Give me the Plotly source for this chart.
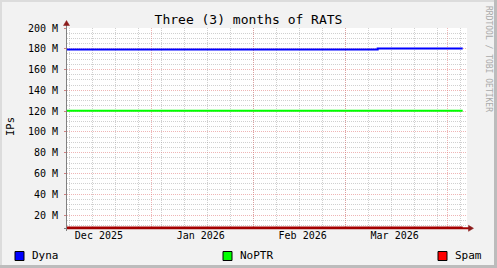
import plotly.graph_objects as go

# ---- data ----
dates = ["2025-12-06 06:45", "2026-03-10 20:00", "2026-04-05 17:00"]
dyna = [179.3, 180.3, 180.3]      # millions
noptr = [120.4, 120.4, 120.4]
spam = [8.1, 8.1, 8.1]

month_starts = ["2026-01-01", "2026-02-01", "2026-03-01", "2026-04-01"]
label_dates = ["2025-12-16", "2026-01-16", "2026-02-16", "2026-03-16"]
label_text = ["Dec 2025", "Jan 2026", "Feb 2026", "Mar 2026"]
week0 = "2025-12-14"
x_range = ["2025-12-06 06:45", "2026-04-07 00:30"]
y_range = [7.6, 200]

series_names = ["Dyna", "NoPTR", "Spam"]
series_colors = ["#0000ff", "#00ff00", "#ff0000"]

MONO = "DejaVu Sans Mono"
MAJ = "rgba(225,120,120,0.55)"
MIN = "rgba(150,150,150,0.45)"
DOT = "1px,1px"

fig = go.Figure()
fig.add_trace(go.Scatter(x=dates, y=dyna, mode="lines", line=dict(color="#0000ff", width=2, shape="hv"),
                         hoverinfo="skip", showlegend=False))
fig.add_trace(go.Scatter(x=dates, y=noptr, mode="lines", line=dict(color="#00ff00", width=2, shape="hv"),
                         hoverinfo="skip", showlegend=False))
fig.add_trace(go.Scatter(x=dates, y=spam, mode="lines", line=dict(color="#b00000", width=2, shape="hv"),
                         hoverinfo="skip", showlegend=False))
# carrier for the label axis
fig.add_trace(go.Scatter(x=label_dates, y=[None] * len(label_dates), xaxis="x2", mode="lines",
                         hoverinfo="skip", showlegend=False))

L, R, T, B = 67, 30, 28, 40
W, H = 497, 268
pw, ph = W - L - R, H - T - B

def px(x):
    return (x - L) / pw

def py(y):
    return (H - B - y) / ph

shapes = []
# frame
shapes.append(dict(type="line", xref="paper", yref="paper", x0=px(0), x1=px(W), y0=py(1), y1=py(1),
                   line=dict(color="#dcdcdc", width=2), layer="above"))
shapes.append(dict(type="line", xref="paper", yref="paper", x0=px(1), x1=px(1), y0=py(0), y1=py(H),
                   line=dict(color="#dcdcdc", width=2), layer="above"))
shapes.append(dict(type="line", xref="paper", yref="paper", x0=px(0), x1=px(W), y0=py(H - 1.5), y1=py(H - 1.5),
                   line=dict(color="#bcbcbc", width=3), layer="above"))
shapes.append(dict(type="line", xref="paper", yref="paper", x0=px(W - 1.5), x1=px(W - 1.5), y0=py(0), y1=py(H),
                   line=dict(color="#bcbcbc", width=3), layer="above"))
# axes
shapes.append(dict(type="line", xref="paper", yref="paper", x0=px(66.5), x1=px(66.5), y0=py(231), y1=py(23),
                   line=dict(color="#808080", width=1), layer="above"))
shapes.append(dict(type="line", xref="paper", yref="paper", x0=px(64), x1=px(67), y0=py(228.5), y1=py(228.5),
                   line=dict(color="#808080", width=1), layer="above"))
shapes.append(dict(type="line", xref="paper", yref="paper", x0=px(67), x1=px(470), y0=py(228.3), y1=py(228.3),
                   line=dict(color="#a00000", width=2), layer="above"))
# arrows
shapes.append(dict(type="path", xref="paper", yref="paper",
                   path=f"M {px(66.5)},{py(20.5)} L {px(63.5)},{py(25.5)} L {px(69.5)},{py(25.5)} Z",
                   fillcolor="#8b1a1a", line=dict(color="#8b1a1a", width=0.5), layer="above"))
shapes.append(dict(type="path", xref="paper", yref="paper",
                   path=f"M {px(473.5)},{py(228.3)} L {px(468.5)},{py(225.3)} L {px(468.5)},{py(231.3)} Z",
                   fillcolor="#8b1a1a", line=dict(color="#8b1a1a", width=0.5), layer="above"))

annotations = []
# legend
legend_pos = [15, 223, 438]
for name, col, x0 in zip(series_names, series_colors, legend_pos):
    shapes.append(dict(type="rect", xref="paper", yref="paper", x0=px(x0), x1=px(x0 + 9),
                       y0=py(260.5), y1=py(251.5), fillcolor=col, line=dict(color="black", width=1)))
    annotations.append(dict(xref="paper", yref="paper", x=px(x0 + 15), y=py(255.5), text=name,
                            showarrow=False, xanchor="left", yanchor="middle",
                            font=dict(family=MONO, size=11, color="black")))
# y title
annotations.append(dict(xref="paper", yref="paper", x=px(10), y=py(127), text="IPs", textangle=-90,
                        showarrow=False, xanchor="center", yanchor="middle",
                        font=dict(family=MONO, size=10.5, color="black")))
# watermark
annotations.append(dict(xref="paper", yref="paper", x=px(489), y=py(59), text="RRDTOOL / TOBI OETIKER",
                        textangle=90, showarrow=False, xanchor="center", yanchor="middle",
                        font=dict(family=MONO, size=8, color="#aaaaaa")))

fig.update_layout(
    width=W, height=H, margin=dict(l=L, r=R, t=T, b=B, pad=0),
    paper_bgcolor="#f2f2f2", plot_bgcolor="#ffffff",
    showlegend=False,
    title=dict(text="Three (3) months of RATS", x=0.5, xref="container", xanchor="center",
               y=1 - 19 / H, yref="container", yanchor="middle",
               font=dict(family=MONO, size=13, color="black")),
    xaxis=dict(type="date", range=x_range, tickmode="array", tickvals=month_starts,
               showticklabels=False, ticks="", showgrid=True, gridcolor=MAJ, griddash=DOT, gridwidth=1,
               zeroline=False, showline=False,
               minor=dict(tick0=week0, dtick=7 * 86400000, showgrid=True, gridcolor=MIN, griddash=DOT,
                          gridwidth=1, ticks="")),
    xaxis2=dict(type="date", range=x_range, overlaying="x", anchor="y", side="bottom",
                tickmode="array", tickvals=label_dates, ticktext=label_text, showgrid=False,
                ticks="", zeroline=False, showline=False,
                tickfont=dict(family=MONO, size=10, color="black")),
    yaxis=dict(range=y_range, tickmode="linear", tick0=0, dtick=20, ticksuffix=" M",
               showgrid=True, gridcolor=MAJ, griddash=DOT, gridwidth=1, zeroline=False, showline=False,
               ticks="outside", ticklen=2, tickcolor="#d08080", ticklabelstandoff=4,
               tickfont=dict(family=MONO, size=10, color="black"),
               minor=dict(tick0=0, dtick=5, showgrid=True, gridcolor=MIN, griddash=DOT, gridwidth=1,
                          ticks="")),
    shapes=shapes, annotations=annotations,
)

fig.write_html("out.html")
